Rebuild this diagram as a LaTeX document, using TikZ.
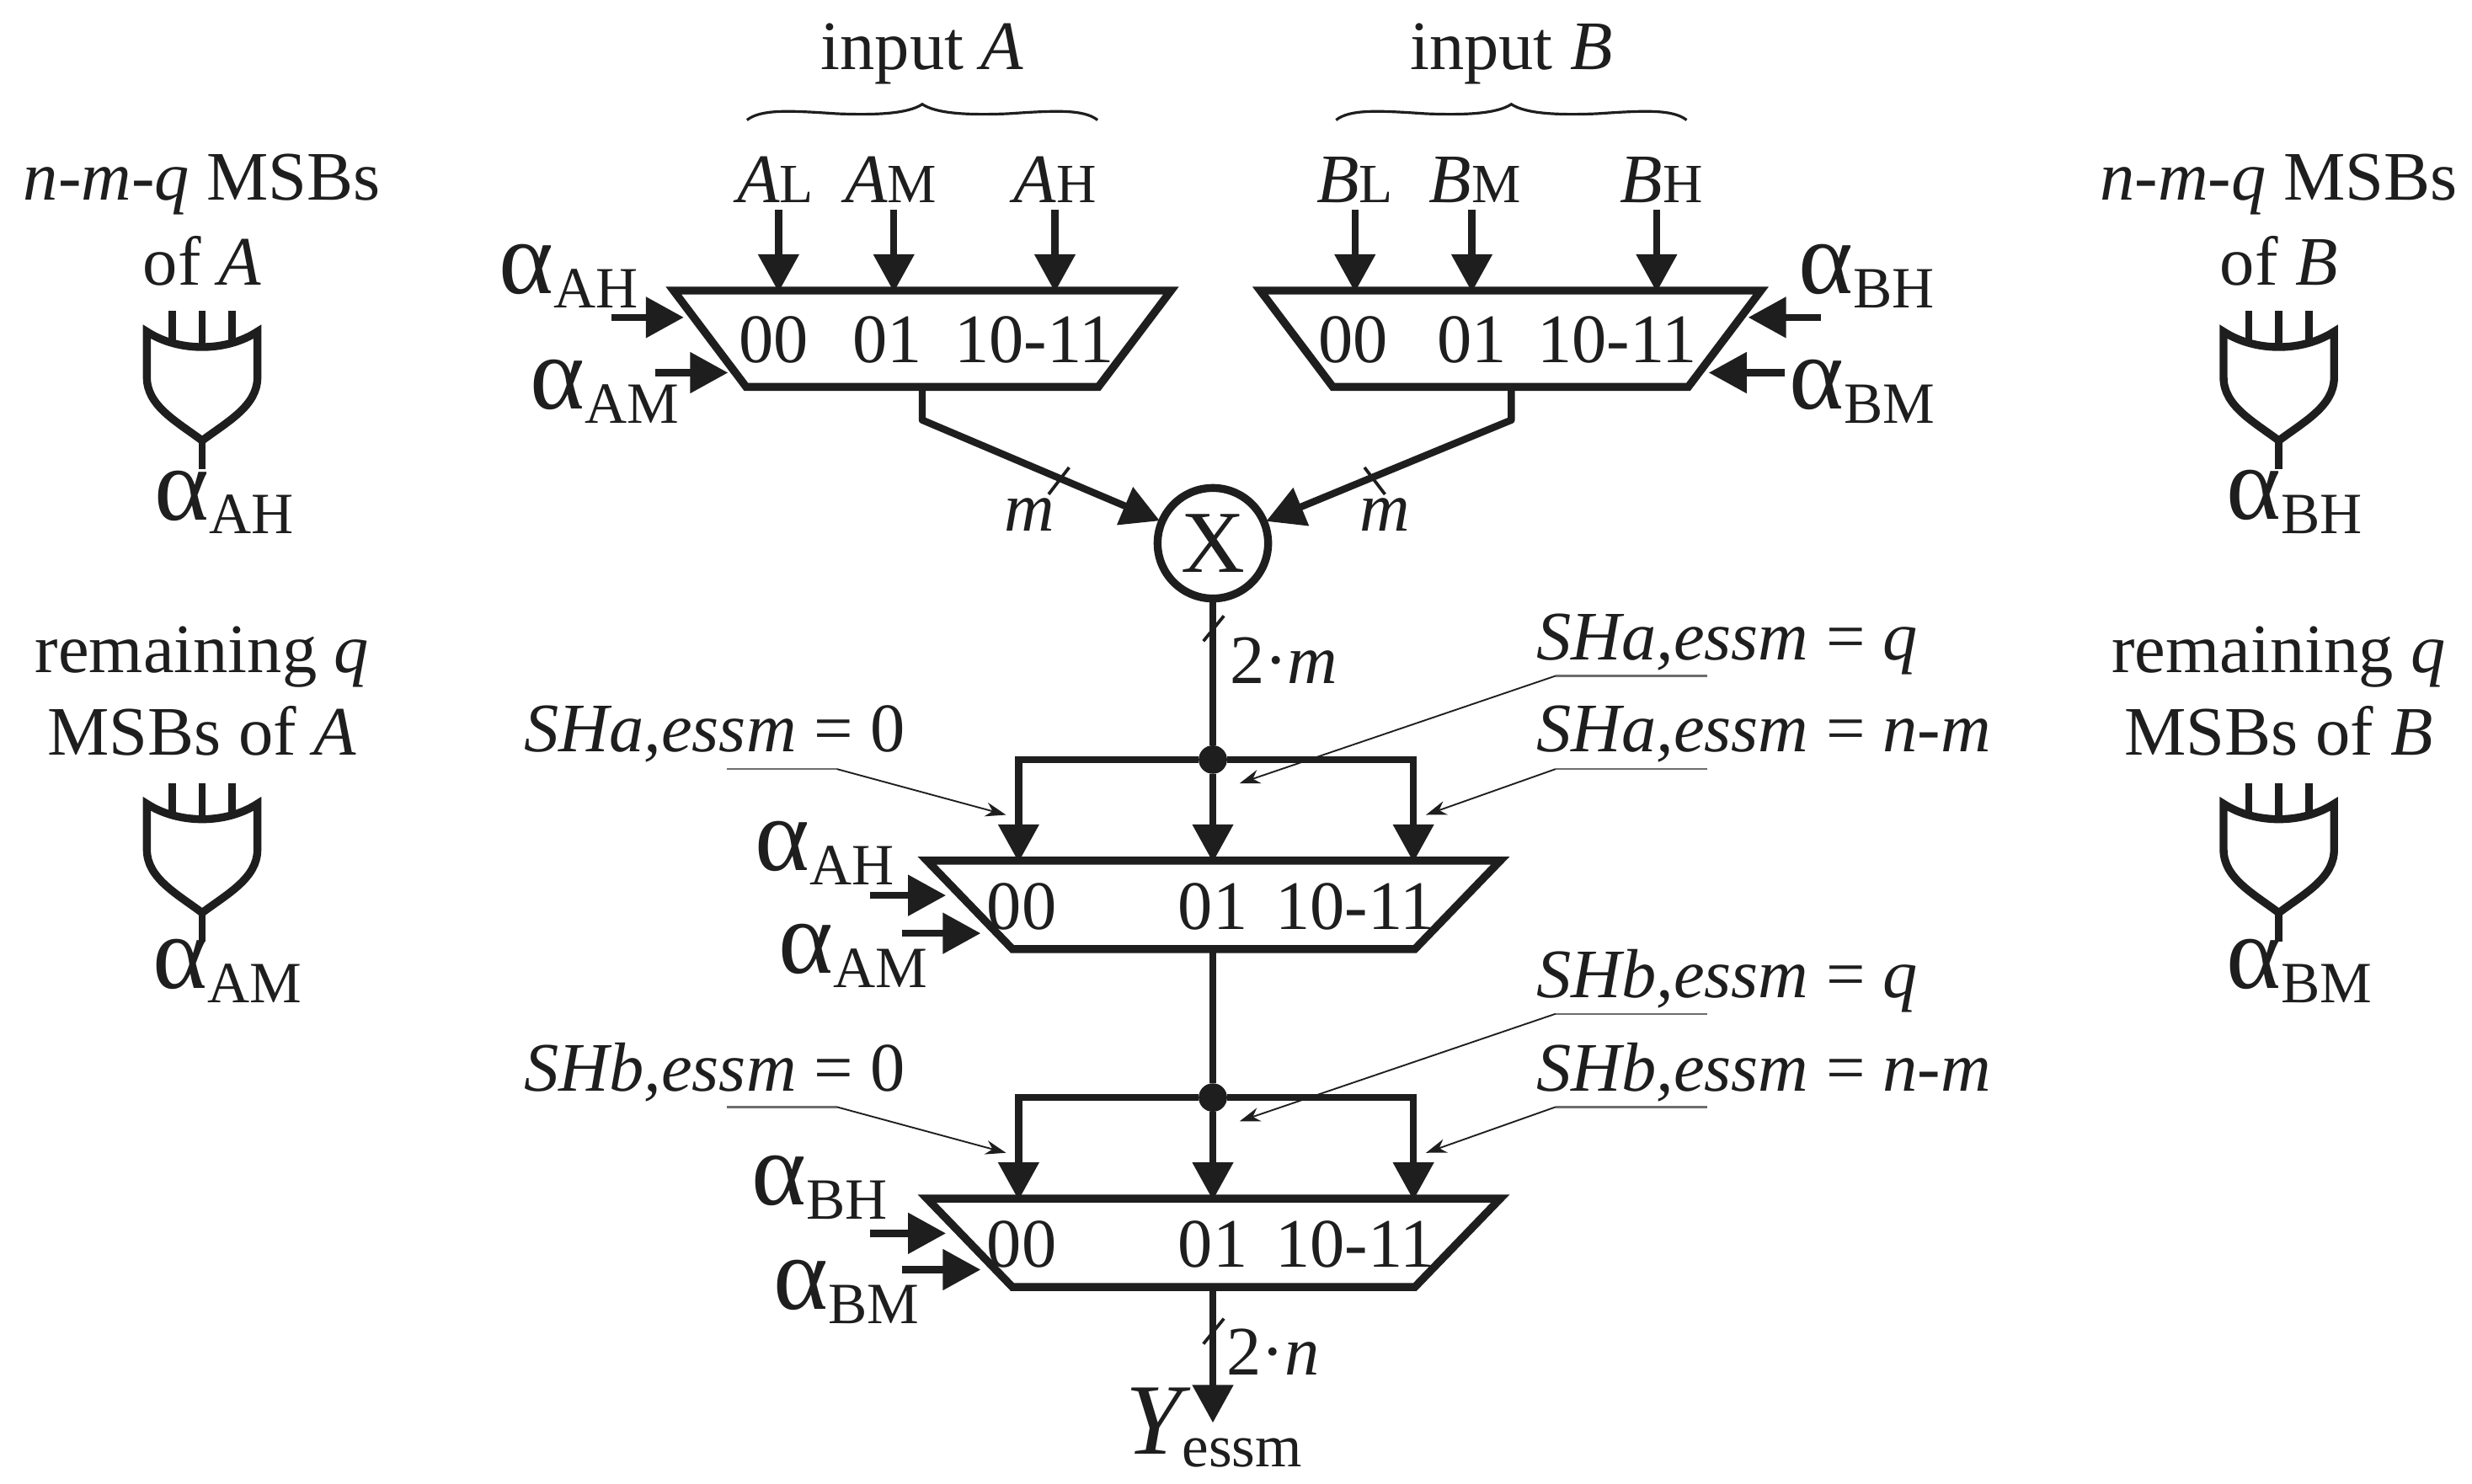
\documentclass[tikz,border=0pt]{standalone}
\usepackage{fontspec}
\setmainfont{Liberation Serif}
\usetikzlibrary{arrows.meta,shapes.geometric,calc}
\definecolor{ink}{HTML}{1E1E1E}
\newcommand{\fsz}[1]{\fontsize{#1}{#1}\selectfont}
\newcommand{\alsub}[1]{{\fsz{66}α}\raisebox{-9pt}{\fsz{37}#1}}
\newcommand{\vsub}[2]{\textit{#1}{\fsz{35}#2}}
\newcommand{\shlab}[3]{\textit{SH#1,essm} = #2}
\tikzset{
  txt/.style={inner sep=0pt,outer sep=0pt,text=ink,font=\fsz{44}},
  mono/.style={txt,font=\fsz{44}},
  muxbox/.style={draw=ink,line width=5pt,fill=white,trapezium,shape border rotate=180,trapezium stretches body=true,trapezium angle=#1,inner sep=0pt,outer sep=0pt},
  bus/.style={draw=ink,line width=4.5pt},
  arr/.style={bus,-{Triangle[length=24pt,width=25pt]},shorten >=-1pt},
  thinarr/.style={draw=ink,line width=1pt,-{Stealth[length=13pt,width=9pt]}},
  uline/.style={draw=ink!65,line width=1.2pt},
  tickmark/.style={draw=ink,line width=2pt},
  dot/.style={circle,fill=ink,inner sep=0pt,minimum size=18pt},
  mult/.style={circle,draw=ink,line width=5pt,fill=white,inner sep=0pt,minimum size=70pt,text=ink,font=\fsz{56}},
  pics/orgate/.style={code={
    \draw[ink,line width=5pt,line join=miter,fill=white] (-35,-69) .. controls (-15,-56) and (15,-56) .. (35,-69) -- (35,-40) .. controls (35,-22) and (16,-12) .. (0,0) .. controls (-16,-12) and (-35,-22) .. (-35,-40) -- cycle;
    \draw[ink,line width=4.5pt] (-19,-82) -- (-19,-60) (0,-82) -- (0,-58) (19,-82) -- (19,-60) (0,0) -- (0,18);
  }}
}
\begin{document}
\begin{tikzpicture}[x=1pt,y=-1pt]
\useasboundingbox (0,0) rectangle (1565.33,939.2);
% --- multiplexers
\node[muxbox=53,minimum width=315pt] (muxA) at (584,214.5) {\rule{0pt}{61pt}};
\node[muxbox=53,minimum width=317pt] (muxB) at (956.5,214.5) {\rule{0pt}{61pt}};
\node[muxbox=46,minimum width=363pt] (muxC) at (768.5,573) {\rule{0pt}{56pt}};
\node[muxbox=46,minimum width=363pt] (muxD) at (768.5,787) {\rule{0pt}{56pt}};
\node[mult] (mul) at (768,344) {X};
\node[dot] (dotA) at (768,481) {};
\node[dot] (dotB) at (768,695) {};
% --- top inputs
\foreach \nm/\xx in {AL/493,AM/566,AH/668}{
  \coordinate (s\nm) at (\xx,133);
  \draw[arr] (s\nm) -- (s\nm |- muxA.north);}
\foreach \nm/\xx in {BL/858,BM/932,BH/1049}{
  \coordinate (s\nm) at (\xx,133);
  \draw[arr] (s\nm) -- (s\nm |- muxB.north);}
\node[mono] (tAL) at (491,114) {\vsub{A}{L}};
\node[mono] (tAM) at (564,114) {\vsub{A}{M}};
\node[mono] (tAH) at (668,114) {\vsub{A}{H}};
\node[mono] (tBL) at (858,114) {\vsub{B}{L}};
\node[mono] (tBM) at (934,114) {\vsub{B}{M}};
\node[mono] (tBH) at (1052,114) {\vsub{B}{H}};
\node[mono] (inA) at (584,34) {input \textit{A}};
\node[mono] (inB) at (957,34) {input \textit{B}};
% braces
\draw[ink,line width=1.7pt] (473,76) .. controls (482,69) and (500,70) .. (530,72) .. controls (555,73) and (575,72) .. (584,66) .. controls (593,72) and (613,73) .. (638,72) .. controls (668,70) and (686,69) .. (695,76);
\draw[ink,line width=1.7pt] (846,76) .. controls (855,69) and (873,70) .. (903,72) .. controls (928,73) and (948,72) .. (957,66) .. controls (966,72) and (986,73) .. (1011,72) .. controls (1041,70) and (1059,69) .. (1068,76);
% mux labels
\foreach \nm/\xx/\yy/\tt in {a0/490/215/00,a1/562/215/01,a2/655/215/10-11,b0/857/215/00,b1/932/215/01,b2/1024/215/10-11,c0/647/574/00,c1/768/574/01,c2/858/574/10-11,d0/647/788/00,d1/768/788/01,d2/858/788/10-11}{
  \node[mono] (m\nm) at (\xx,\yy) {\tt};}
% --- to multiplier
\coordinate (kA) at (584,266);
\coordinate (kB) at (957,266);
\draw[arr,line join=round] (muxA.south -| kA) -- (kA) -- (mul);
\draw[arr,line join=round] (muxB.south -| kB) -- (kB) -- (mul);
\draw[tickmark] (664,313) -- (677,296);
\draw[tickmark] (864,296) -- (877,313);
\node[mono,font=\fsz{44}\itshape] (lm1) at (652,326) {m};
\node[mono,font=\fsz{44}\itshape] (lm2) at (877,326) {m};
% --- centre spine
\draw[bus] (mul) -- (dotA);
\draw[tickmark] (762,406) -- (775,390);
\node[mono] (l2m) at (813,418) {2·\textit{m}};
\coordinate (lbA) at (645,481);
\coordinate (rbA) at (895,481);
\draw[arr,line join=miter] (dotA) -- (lbA) -- (lbA |- muxC.north);
\draw[arr,line join=miter] (dotA) -- (rbA) -- (rbA |- muxC.north);
\draw[arr] (dotA) -- (dotA |- muxC.north);
\draw[bus] (muxC.south -| dotB) -- (dotB);
\coordinate (lbB) at (645,695);
\coordinate (rbB) at (895,695);
\draw[arr,line join=miter] (dotB) -- (lbB) -- (lbB |- muxD.north);
\draw[arr,line join=miter] (dotB) -- (rbB) -- (rbB |- muxD.north);
\draw[arr] (dotB) -- (dotB |- muxD.north);
\coordinate (yend) at (768,900);
\draw[arr] (muxD.south -| yend) -- (yend);
\draw[tickmark] (762,851) -- (775,835);
\node[mono] (l2n) at (806,856) {2·\textit{n}};
\node[txt,anchor=west] (yl) at (713,904) {{\fsz{64}\itshape Υ}\raisebox{-8pt}{\fsz{38}essm}};
% --- select arrows
\foreach \nm/\xa/\ya/\xb in {p/387/201/432,q/415/236/460,r/1153/201/1108,s/1130/236/1083,t/551/567/598,u/571/591/620,v/551/781/598,w/571/804/620}{
  \coordinate (a\nm) at (\xa,\ya);
  \coordinate (b\nm) at (\xb,\ya);
  \draw[arr] (a\nm) -- (b\nm);}
% --- alpha labels
\node[txt] (al1) at (360,175) {\alsub{AH}};
\node[txt] (al2) at (383,248) {\alsub{AM}};
\node[txt] (al3) at (1182,175) {\alsub{BH}};
\node[txt] (al4) at (1179,248) {\alsub{BM}};
\node[txt] (al5) at (522,540) {\alsub{AH}};
\node[txt] (al6) at (540,605) {\alsub{AM}};
\node[txt] (al7) at (519,752) {\alsub{BH}};
\node[txt] (al8) at (536,818) {\alsub{BM}};
% --- shift labels
\node[txt,anchor=west] (s1) at (332,465) {\shlab{a}{0}{}};
\node[txt,anchor=west] (s2) at (973,408) {\shlab{a}{\textit{q}}{}};
\node[txt,anchor=west] (s3) at (973,465) {\shlab{a}{\textit{n-m}}{}};
\node[txt,anchor=west] (s4) at (332,679) {\shlab{b}{0}{}};
\node[txt,anchor=west] (s5) at (973,621) {\shlab{b}{\textit{q}}{}};
\node[txt,anchor=west] (s6) at (973,679) {\shlab{b}{\textit{n-m}}{}};
\foreach \dd/\oo in {a/0,b/214}{
  \coordinate (u1\dd) at (460,487+\oo); \coordinate (k1\dd) at (530,487+\oo); \coordinate (e1\dd) at (637,516+\oo);
  \coordinate (u2\dd) at (1081,428+\oo); \coordinate (k2\dd) at (985,428+\oo); \coordinate (e2\dd) at (785,496+\oo);
  \coordinate (u3\dd) at (1081,487+\oo); \coordinate (k3\dd) at (985,487+\oo); \coordinate (e3\dd) at (903,516+\oo);
  \draw[uline] (u1\dd) -- (k1\dd); \draw[thinarr] (k1\dd) -- (e1\dd);
  \draw[uline] (u2\dd) -- (k2\dd); \draw[thinarr] (k2\dd) -- (e2\dd);
  \draw[uline] (u3\dd) -- (k3\dd); \draw[thinarr] (k3\dd) -- (e3\dd);
}
% --- OR gates and side texts
\pic at (128,279) {orgate};
\pic at (128,578) {orgate};
\pic at (1443,279) {orgate};
\pic at (1443,578) {orgate};
\node[mono] (x1) at (128,117) {\textit{n-m-q} MSBs};
\node[mono] (x2) at (128,165) {of \textit{A}};
\node[txt] (x3) at (142,318) {\alsub{AH}};
\node[mono] (x4) at (128,416) {remaining \textit{q}};
\node[mono] (x5) at (128,463) {MSBs of \textit{A}};
\node[txt] (x6) at (144,615) {\alsub{AM}};
\node[mono] (y1) at (1443,117) {\textit{n-m-q} MSBs};
\node[mono] (y2) at (1443,165) {of \textit{B}};
\node[txt] (y3) at (1453,318) {\alsub{BH}};
\node[mono] (y4) at (1443,416) {remaining \textit{q}};
\node[mono] (y5) at (1443,463) {MSBs of \textit{B}};
\node[txt] (y6) at (1456,615) {\alsub{BM}};
\end{tikzpicture}
\end{document}
